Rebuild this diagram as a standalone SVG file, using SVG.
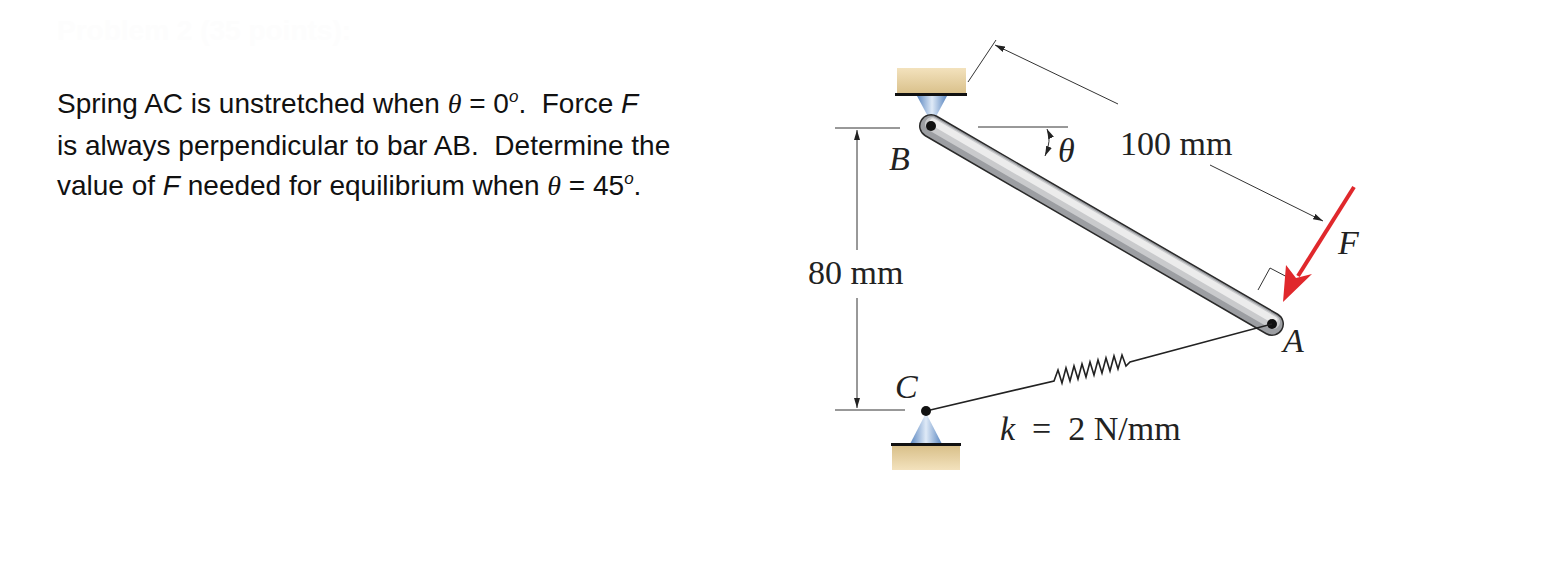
<svg xmlns="http://www.w3.org/2000/svg" width="1553" height="568" viewBox="0 0 1553 568">
<defs>
<linearGradient id="tan" x1="0" y1="0" x2="0" y2="1"><stop offset="0" stop-color="#f3e2bd"/><stop offset="1" stop-color="#d9c08a"/></linearGradient>
<linearGradient id="tanb" x1="0" y1="0" x2="0" y2="1"><stop offset="0" stop-color="#d9c08a"/><stop offset="1" stop-color="#f3e2bd"/></linearGradient>
<linearGradient id="blue" x1="0" y1="0" x2="1" y2="0"><stop offset="0" stop-color="#5a86c0"/><stop offset="0.5" stop-color="#dfeaf7"/><stop offset="1" stop-color="#5a86c0"/></linearGradient>
<marker id="ar" viewBox="0 0 10 6" refX="10" refY="3" markerWidth="10" markerHeight="6" orient="auto-start-reverse" markerUnits="userSpaceOnUse"><path d="M0,0 L10,3 L0,6 Z" fill="#222"/></marker>
<style>
.t{font-family:"Liberation Sans",Arial,sans-serif;font-size:28px;fill:#111}
.s{font-family:"Liberation Serif","Times New Roman",serif;font-size:34px;fill:#222}
.thin{stroke:#333;stroke-width:1;fill:none}
</style>
</defs>
<text x="57" y="40" class="t" style="font-weight:bold;fill:#fdfdfd">Problem 2 (35 points):</text>
<g id="text">
<text x="57" y="113" class="t" xml:space="preserve">Spring AC is unstretched when <tspan font-family="Liberation Serif" font-style="italic">θ</tspan> = 0<tspan font-size="17" dy="-11" font-style="italic">o</tspan><tspan dy="11">.  Force </tspan><tspan font-style="italic">F</tspan></text>
<text x="57" y="155" class="t" xml:space="preserve">is always perpendicular to bar AB.  Determine the</text>
<text x="57" y="195" class="t" xml:space="preserve">value of <tspan font-style="italic">F</tspan> needed for equilibrium when <tspan font-family="Liberation Serif" font-style="italic">θ</tspan> = 45<tspan font-size="17" dy="-11" font-style="italic">o</tspan><tspan dy="11">.</tspan></text>
</g>
<g id="connectors">
<line x1="835" y1="128" x2="900" y2="128" class="thin"/>
<line x1="835" y1="410" x2="905" y2="410" class="thin"/>
<line x1="857" y1="250" x2="857" y2="130" class="thin" marker-end="url(#ar)"/>
<line x1="857" y1="298" x2="857" y2="408" class="thin" marker-end="url(#ar)"/>
<line x1="978" y1="127" x2="1068" y2="127" class="thin"/>
<line x1="968" y1="82" x2="996" y2="40" class="thin"/>
<line x1="1118" y1="104" x2="995" y2="45" class="thin" marker-end="url(#ar)"/>
<line x1="1210" y1="165" x2="1323" y2="221" class="thin" marker-end="url(#ar)"/>
<path d="M1047,129 Q1052,140 1045,156" class="thin" marker-start="url(#ar)" marker-end="url(#ar)"/>
<path d="M1258,290 L1270,268 L1291,279" class="thin"/>
</g>
<g id="supportB">
<rect x="897" y="68" width="69" height="26" fill="url(#tan)"/>
<rect x="895" y="93" width="72" height="3" fill="#111"/>
<path d="M917,96 L947,96 L932,124 Z" fill="url(#blue)"/>
</g>
<g id="bar">
<line x1="931" y1="126" x2="1272" y2="324" stroke="#2a2a2a" stroke-width="24" stroke-linecap="round"/>
<line x1="931" y1="126" x2="1272" y2="324" stroke="#9c9ea2" stroke-width="21" stroke-linecap="round"/>
<line x1="932" y1="124" x2="1273" y2="322" stroke="#c9cacc" stroke-width="14" stroke-linecap="round"/>
<line x1="933" y1="122" x2="1274" y2="320" stroke="#ececec" stroke-width="7" stroke-linecap="round"/>
<circle cx="931" cy="126" r="5" fill="#111"/>
<circle cx="1272" cy="324" r="5" fill="#111"/>
</g>
<g id="supportC">
<path d="M910,444 L942,444 L926,413 Z" fill="url(#blue)"/>
<rect x="891" y="443" width="70" height="3" fill="#111"/>
<rect x="892" y="446" width="68" height="24" fill="url(#tanb)"/>
</g>
<g id="spring">
<path d="M926,411 L1054,381 L1058,370 L1062,383 L1066,368 L1070,381 L1074,366 L1078,379 L1082,364 L1086,377 L1090,362 L1094,375 L1098,360 L1102,373 L1106,358 L1110,371 L1114,356 L1118,369 L1122,355 L1126,366 L1130,362 L1272,324" fill="none" stroke="#222" stroke-width="1.6"/>
<circle cx="926" cy="411" r="5" fill="#111"/>
</g>
<g id="force">
<line x1="1354" y1="187" x2="1298" y2="276" stroke="#e0282c" stroke-width="4"/>
<path d="M1283,302 L1286,265 L1296,278 L1312,274 Z" fill="#e0282c"/>
</g>
<g id="labels">
<text x="889" y="170" class="s" font-style="italic">B</text>
<text x="1058" y="162" class="s" font-style="italic">θ</text>
<text x="1120" y="155" class="s">100 mm</text>
<text x="1338" y="254" class="s" font-style="italic">F</text>
<text x="1283" y="352" class="s" font-style="italic">A</text>
<text x="808" y="284" class="s">80 mm</text>
<text x="895" y="398" class="s" font-style="italic">C</text>
<text x="1000" y="440" class="s" xml:space="preserve"><tspan font-style="italic">k</tspan>  =  2 N/mm</text>
</g>
</svg>
